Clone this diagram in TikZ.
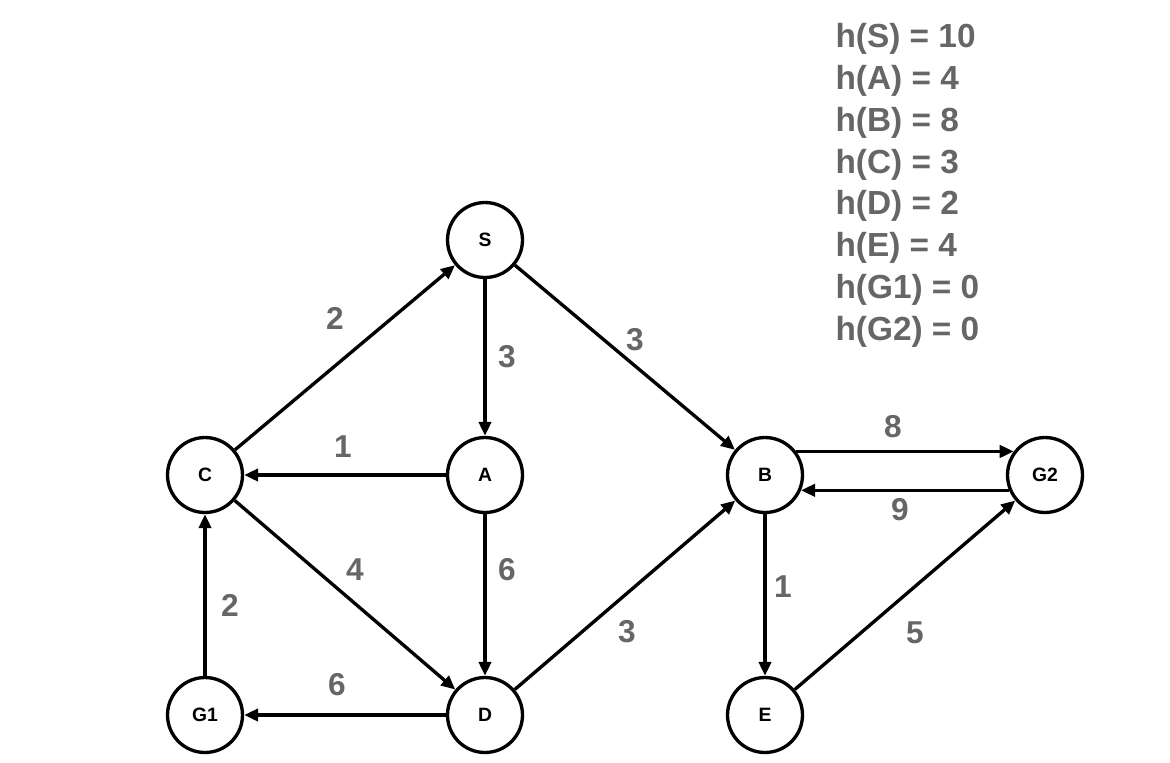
\documentclass[tikz,border=0pt]{standalone}
\usepackage{fontspec}
\setmainfont{Liberation Sans}
\usetikzlibrary{arrows.meta}
\definecolor{lblgray}{HTML}{666666}
\begin{document}
\begin{tikzpicture}[x=0.02cm, y=-0.02cm, line width=1.9pt,
    main/.style = {draw, circle, minimum size=1.5cm, inner sep=0pt, font=\bfseries\fontsize{11}{13}\selectfont},
    arr/.style = {-{Triangle[length=8pt,width=7pt]}},
    w/.style = {text=lblgray, font=\bfseries\fontsize{18}{21}\selectfont}]
    \useasboundingbox (0,0) rectangle (1170,762);
    \node[main] (S) at (485,240) {S};
    \node[main] (A) at (485,475) {A};
    \node[main] (C) at (205,475) {C};
    \node[main] (G1) at (205,715) {G1};
    \node[main] (D) at (485,715) {D};
    \node[main] (B) at (765,475) {B};
    \node[main] (G2) at (1045,475) {G2};
    \node[main] (E) at (765,715) {E};
    \draw[arr] (C) -- (S);
    \draw[arr] (S) -- (A);
    \draw[arr] (S) -- (B);
    \draw[arr] (A) -- (C);
    \draw[arr] (C) -- (D);
    \draw[arr] (A) -- (D);
    \draw[arr] (D) -- (B);
    \draw[arr] (G1) -- (C);
    \draw[arr] (D) -- (G1);
    \draw[arr] (B.37) -- (G2.143);
    \draw[arr] (G2.-157) -- (B.-23);
    \draw[arr] (B) -- (E);
    \draw[arr] (E) -- (G2);
    % edge weights
    \node[w] (wCS) at (335,318) {2};
    \node[w] (wSA) at (507,357) {3};
    \node[w] (wSB) at (635,340) {3};
    \node[w] (wAC) at (343,447) {1};
    \node[w] (wCD) at (355,570) {4};
    \node[w] (wAD) at (507,570) {6};
    \node[w] (wDB) at (627,632) {3};
    \node[w] (wGC) at (230,605) {2};
    \node[w] (wDG) at (337,685) {6};
    \node[w] (wBG) at (893,427) {8};
    \node[w] (wGB) at (900,510) {9};
    \node[w] (wBE) at (783,587) {1};
    \node[w] (wEG) at (915,633) {5};
    % heuristics
    \node[w, align=left, anchor=north west, font=\bfseries\fontsize{19}{23.8}\selectfont] (heur) at (828,16)
      {h(S) = 10\\h(A) = 4\\h(B) = 8\\h(C) = 3\\h(D) = 2\\h(E) = 4\\h(G1) = 0\\h(G2) = 0};
\end{tikzpicture}
\end{document}
